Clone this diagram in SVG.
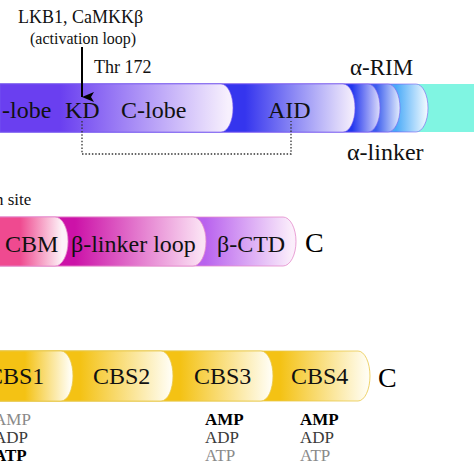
<svg xmlns="http://www.w3.org/2000/svg" width="474" height="474" viewBox="0 0 474 474">
<style>
text{font-family:"Liberation Serif","DejaVu Serif","Times New Roman",serif;fill:#111}
.dom{font-size:24px}
.big{font-size:28px}
.lig{font-size:17px}
.g{fill:#8a8a8a}
.m{fill:#3a3a3a}
.k{fill:#000}
.ao{stroke:#7a5cf0;stroke-width:0.6}
.bo{stroke:#e48ccc;stroke-width:0.8}
.co{stroke:#e9c84a;stroke-width:0.8}
</style>
<defs>
<linearGradient id="a1" gradientUnits="userSpaceOnUse" x1="60" y1="0" x2="228" y2="0"><stop offset="0" stop-color="#6a3ff0"/><stop offset="1" stop-color="#f7f0fd"/></linearGradient>
<linearGradient id="a2" gradientUnits="userSpaceOnUse" x1="245" y1="0" x2="352" y2="0"><stop offset="0" stop-color="#3535ee"/><stop offset="1" stop-color="#f3ecfc"/></linearGradient>
<linearGradient id="a3" gradientUnits="userSpaceOnUse" x1="352" y1="0" x2="380" y2="0"><stop offset="0" stop-color="#2236ee"/><stop offset="1" stop-color="#dcdcfb"/></linearGradient>
<linearGradient id="a4" gradientUnits="userSpaceOnUse" x1="376" y1="0" x2="400" y2="0"><stop offset="0" stop-color="#3a5cee"/><stop offset="1" stop-color="#e2ecfd"/></linearGradient>
<linearGradient id="a5" gradientUnits="userSpaceOnUse" x1="396" y1="0" x2="428" y2="0"><stop offset="0" stop-color="#4aaaf8"/><stop offset="1" stop-color="#f6fcff"/></linearGradient>
<linearGradient id="b1" gradientUnits="userSpaceOnUse" x1="20" y1="0" x2="62" y2="0"><stop offset="0" stop-color="#ef4a90"/><stop offset="1" stop-color="#fdf3f8"/></linearGradient>
<linearGradient id="b2" gradientUnits="userSpaceOnUse" x1="75" y1="0" x2="202" y2="0"><stop offset="0" stop-color="#cc12a8"/><stop offset="1" stop-color="#fbe2f4"/></linearGradient>
<linearGradient id="b3" gradientUnits="userSpaceOnUse" x1="205" y1="0" x2="292" y2="0"><stop offset="0" stop-color="#b962ee"/><stop offset="1" stop-color="#fbeefb"/></linearGradient>
<linearGradient id="c1" gradientUnits="userSpaceOnUse" x1="25" y1="0" x2="70" y2="0"><stop offset="0" stop-color="#f4c214"/><stop offset="1" stop-color="#fffdf2"/></linearGradient>
<linearGradient id="c2" gradientUnits="userSpaceOnUse" x1="80" y1="0" x2="170" y2="0"><stop offset="0" stop-color="#f4c214"/><stop offset="1" stop-color="#fffdf2"/></linearGradient>
<linearGradient id="c3" gradientUnits="userSpaceOnUse" x1="180" y1="0" x2="270" y2="0"><stop offset="0" stop-color="#f4c214"/><stop offset="1" stop-color="#fffdf2"/></linearGradient>
<linearGradient id="c4" gradientUnits="userSpaceOnUse" x1="280" y1="0" x2="367" y2="0"><stop offset="0" stop-color="#f4c214"/><stop offset="1" stop-color="#fffdf2"/></linearGradient>
<marker id="arr" viewBox="0 0 10 12" refX="5" refY="12" markerWidth="10" markerHeight="12" markerUnits="userSpaceOnUse" orient="auto-start-reverse"><path d="M0,0 L5,3 L10,0 L5,12 Z" fill="#000"/></marker>
</defs>

<g id="alpha" font-family="Liberation Serif, DejaVu Serif, serif">
<rect x="0" y="84" width="474" height="48" fill="#80f5e2"/>
<path class="ao" d="M0,84 H416 A12 24 0 0 1 416,132 H0 Z" fill="url(#a5)"/>
<path class="ao" d="M0,84 H388 A12 24 0 0 1 388,132 H0 Z" fill="url(#a4)"/>
<path class="ao" d="M0,84 H368 A12 24 0 0 1 368,132 H0 Z" fill="url(#a3)"/>
<path class="ao" d="M0,84 H343 A12 24 0 0 1 343,132 H0 Z" fill="url(#a2)"/>
<path class="ao" d="M0,84 H221 A12 24 0 0 1 221,132 H0 Z" fill="url(#a1)"/>
<text class="dom" x="2" y="118">-lobe</text>
<text class="dom" x="65" y="118">KD</text>
<text class="dom" x="121" y="118">C-lobe</text>
<text class="dom" x="268" y="118">AID</text>
<text x="350" y="75" style="font-size:23px">α-RIM</text>
<text x="347" y="160" style="font-size:24px">α-linker</text>
<text x="18" y="23" style="font-size:18px">LKB1, CaMKKβ</text>
<text x="30" y="44" style="font-size:16px">(activation loop)</text>
<text x="94" y="73" style="font-size:18px">Thr 172</text>
</g>

<g id="beta" font-family="Liberation Serif, DejaVu Serif, serif">
<path class="bo" d="M0,217 H283 A13 24.5 0 0 1 283,266 H0" fill="url(#b3)"/>
<path class="bo" d="M0,217 H193 A13 24.5 0 0 1 193,266 H0" fill="url(#b2)"/>
<path class="bo" d="M0,217 H55 A13 24.5 0 0 1 55,266 H0" fill="url(#b1)"/>
<text x="-5" y="205" style="font-size:17px">n site</text>
<text class="dom" x="5" y="252">CBM</text>
<text class="dom" x="71" y="252">β-linker loop</text>
<text class="dom" x="217" y="252">β-CTD</text>
<text class="big k" x="305" y="252">C</text>
</g>

<g id="gamma" font-family="Liberation Serif, DejaVu Serif, serif">
<path class="co" d="M0,351 H358 A12 25 0 0 1 358,401 H0" fill="url(#c4)"/>
<path class="co" d="M0,351 H261 A12 25 0 0 1 261,401 H0" fill="url(#c3)"/>
<path class="co" d="M0,351 H161 A12 25 0 0 1 161,401 H0" fill="url(#c2)"/>
<path class="co" d="M0,351 H61 A12 25 0 0 1 61,401 H0" fill="url(#c1)"/>
<text class="dom" x="-13" y="384">CBS1</text>
<text class="dom" x="93" y="384">CBS2</text>
<text class="dom" x="194" y="384">CBS3</text>
<text class="dom" x="291" y="384">CBS4</text>
<text class="big k" x="378" y="387">C</text>
<text class="lig g" x="-6" y="425">AMP</text>
<text class="lig m" x="-6" y="443">ADP</text>
<text class="lig k" x="-6" y="461" style="font-weight:bold">ATP</text>
<text class="lig k" x="205" y="425" style="font-weight:bold">AMP</text>
<text class="lig m" x="205" y="443">ADP</text>
<text class="lig g" x="205" y="461">ATP</text>
<text class="lig k" x="300" y="425" style="font-weight:bold">AMP</text>
<text class="lig m" x="300" y="443">ADP</text>
<text class="lig g" x="300" y="461">ATP</text>
</g>

<g id="connectors">
<line x1="82" y1="47" x2="82" y2="97" stroke="#000" stroke-width="2" marker-end="url(#arr)"/>
<path d="M82,121 V154 H291 V121" fill="none" stroke="#333" stroke-width="1.3" stroke-dasharray="1.5 1.8"/>
</g>
</svg>
